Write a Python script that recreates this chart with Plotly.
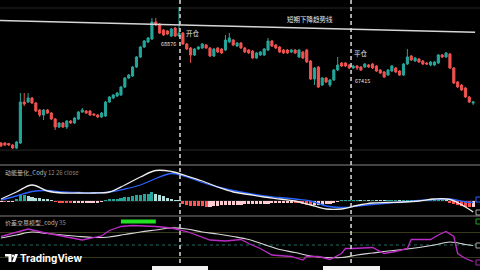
import plotly.graph_objects as go

# ---------------- data ----------------
opens = [63873,63873,63851,63782,63646,63873,65739,65739,65921,65693,65375,65147,65375,65238,64965,64601,64783,64601,64874,64783,
         64965,65284,65329,65329,65193,65147,65056,65102,65739,65921,66012,66057,66421,66831,66922,67331,67786,68241,68469,68605,
         69379,69288,69015,68970,68742,69106,68742,68878,68378,68196,67877,68150,68196,68332,68196,67832,68196,68150,68105,68469,
         68560,68287,68423,68196,68105,68059,67741,67877,67877,68105,68514,68332,68241,68105,68105,68014,68105,67786,68014,68105,
         67604,66785,67331,66512,66831,66512,66740,67195,67513,67513,67422,67286,67377,67331,67331,67422,67468,67377,67195,67104,
         66967,67149,67286,67149,66967,67468,67832,67604,67695,67604,67513,67422,67422,67513,67877,67786,67923,67286,66649,66512,
         66376,65966,65693]
highs = [63919,63919,63873,63828,63964,66148,66148,66148,65966,65739,65420,65420,65420,65284,65011,64829,64829,64920,64920,65056,
         65329,65466,65375,65375,65238,65193,65284,65784,66012,66103,66194,66467,66876,67013,67377,67832,68287,68560,68696,69561,
         69561,69333,69060,69015,69106,69151,70062,68924,68423,68241,68196,68287,68423,68378,68241,68196,68241,68196,68787,68878,
         68605,68469,68469,68241,68150,68105,68014,68059,68196,68651,68560,68378,68287,68150,68150,68150,68150,68150,68059,68150,
         67650,67331,67377,66876,66876,66785,67240,67786,67559,67559,67468,67422,67422,67377,67513,67468,67513,67422,67240,67149,
         67240,67422,67331,67195,67513,68150,67877,67786,67741,67650,67559,67604,67604,67923,67923,68014,67968,67331,66694,66558,
         66421,66012,65784]
lows = [63691,63737,63737,63600,63600,63828,65557,65693,65648,65284,65056,64920,65193,64920,64465,64556,64556,64510,64738,64738,
        64920,65238,65193,65102,65102,65011,65011,65056,65693,65875,65966,66012,66376,66785,66876,67286,67741,68196,68423,68560,
        69197,68833,68742,68787,68696,68696,68696,68332,68105,67513,67832,68105,68150,68150,67786,67786,67968,67923,68059,68423,
        68287,68241,68150,67968,67923,67695,67695,67832,67832,68059,68241,68150,67968,67923,67923,67968,67923,67741,67695,67513,
        66740,66512,66376,66467,66603,66421,66694,67149,67331,67331,67240,67240,67195,67149,67286,67286,67240,67104,67013,66831,
        66922,67104,67058,66922,66922,67422,67604,67559,67513,67422,67422,67377,67377,67468,67741,67741,67240,66558,66376,66239,
        65921,65693,65602]
closes = [63737,63782,63782,63646,63919,65739,65648,65921,65693,65329,65147,65375,65238,64965,64601,64783,64601,64874,64783,65011,
          65284,65375,65238,65147,65147,65056,65238,65739,65966,66057,66148,66421,66831,66967,67331,67786,68241,68514,68651,69379,
          69242,68878,68787,68833,69060,68742,68878,68378,68150,67877,68150,68241,68378,68196,67832,68150,68014,67968,68560,68651,
          68332,68423,68196,68014,67968,67741,67968,68014,68150,68514,68287,68196,68014,67968,67968,68105,67968,68105,67741,67559,
          66785,67286,66421,66831,66649,66740,67195,67422,67377,67377,67286,67377,67286,67195,67468,67331,67286,67149,67058,66876,
          67195,67377,67104,66967,67468,67786,67650,67741,67559,67468,67468,67559,67559,67877,67786,67968,67286,66603,66421,66285,
          65966,65739,65739]

hist = [-15,-20,-20,-15,30,120,120,110,90,70,60,50,35,20,-20,-30,-35,-40,-45,-45,
        -45,-45,-40,-35,-30,-25,-15,15,30,40,50,60,75,90,100,115,130,140,150,180,
        150,130,100,70,40,20,5,-60,-80,-90,-95,-100,-105,-115,-115,-105,-95,-85,-75,-70,
        -70,-70,-70,-65,-65,-60,-55,-55,-55,-50,-45,-40,-40,-35,-35,-30,-35,-45,-55,-70,
        -80,-80,-75,-70,-60,-50,-30,-10,5,10,12,14,14,12,12,10,10,8,6,4,
        4,6,6,5,10,20,20,20,18,15,15,15,15,20,20,10,-30,-60,-80,-100,
        -110,-115,-115]

osc_idx = [0,4,8,12,16,20,24,28,32,36,40,44,48,52,56,60,64,68,72,76,80,84,88,92,96,100,104,108,112,116,120,122]
macd_line = [40,180,320,200,160,160,160,180,320,480,610,590,500,400,280,180,130,80,40,0,-80,-160,-160,-90,-40,-30,-20,0,40,30,-120,-220]
signal_line = [20,100,190,210,180,170,160,180,240,320,450,550,480,370,280,210,150,100,70,40,0,-100,-130,-100,-70,-40,-20,10,30,40,-20,-30]
spread_slow = [64,70,76,73,70,67,65,66,71,76,80,84,82,76,72,67,61,51,41,35,28,25,25,30,34,38,41,45,50,56,51,49]

fast_idx = [0,7,11,17,21,26,28,31,34,40,44,48,51,54,58,62,64,67,70,75,78,79,82,85,88,89,91,95,96,99,102,105,106,111,113,115,117,118,120,122]
spread_fast = [67,82,75,66,60,68,79,87,89,87,84,77,68,60,58,61,53,43,30,27,20,27,27,21,33,43,43,45,45,33,37,43,61,61,70,77,67,33,23,17]

signal_zone_idx = [31,32,33,34,35,36,37,38,39,40]
signal_zone_level = 97

trend_x = [-0.26, 122.5]
trend_price = [69447, 68910]
entry_idx, exit_idx = 46.25, 90.45

UP, DOWN = "#26a69a", "#ef5350"
n = len(opens)
idx = list(range(n))

fig = go.Figure()
fig.add_trace(go.Candlestick(
    x=idx, open=opens, high=highs, low=lows, close=closes,
    increasing=dict(line=dict(color=UP, width=1), fillcolor=UP),
    decreasing=dict(line=dict(color=DOWN, width=1), fillcolor=DOWN),
    whiskerwidth=0, xaxis="x", yaxis="y", showlegend=False, hoverinfo="skip"))
fig.add_trace(go.Scatter(x=trend_x, y=trend_price, mode="lines",
                         line=dict(color="#d6d6d6", width=1.5), xaxis="x", yaxis="y",
                         showlegend=False, hoverinfo="skip"))

# histogram colours by TradingView rule
hcol = []
for k, h in enumerate(hist):
    prev = hist[k - 1] if k else h
    if h >= 0:
        hcol.append("#26a69a" if h >= prev else "#b2dfdb")
    else:
        hcol.append("#ff5252" if h < prev else "#ffcdd2")
fig.add_trace(go.Bar(x=idx, y=hist, marker=dict(color=hcol, line=dict(width=0)), width=0.8,
                     xaxis="x2", yaxis="y2", showlegend=False, hoverinfo="skip"))
fig.add_trace(go.Scatter(x=osc_idx, y=signal_line, mode="lines", line=dict(color="#2962ff", width=1.3, shape="spline"),
                         xaxis="x2", yaxis="y2", showlegend=False, hoverinfo="skip"))
fig.add_trace(go.Scatter(x=osc_idx, y=macd_line, mode="lines", line=dict(color="#eeeeee", width=1.3, shape="spline"),
                         xaxis="x2", yaxis="y2", showlegend=False, hoverinfo="skip"))

fig.add_trace(go.Scatter(x=signal_zone_idx, y=[signal_zone_level] * len(signal_zone_idx), mode="lines",
                         line=dict(color="#22e022", width=4), xaxis="x3", yaxis="y3",
                         showlegend=False, hoverinfo="skip"))
fig.add_trace(go.Scatter(x=osc_idx, y=spread_slow, mode="lines", line=dict(color="#d8d8d8", width=1.2, shape="spline"),
                         xaxis="x3", yaxis="y3", showlegend=False, hoverinfo="skip"))
fig.add_trace(go.Scatter(x=fast_idx, y=spread_fast, mode="lines", line=dict(color="#bb2cc4", width=1.3),
                         xaxis="x3", yaxis="y3", showlegend=False, hoverinfo="skip"))

xr = [-0.26, 123.77]
ax = dict(range=xr, visible=False, showgrid=False, zeroline=False, fixedrange=True)
fig.update_layout(
    width=480, height=270, margin=dict(l=0, r=0, t=0, b=0),
    paper_bgcolor="#000000", plot_bgcolor="#000000",
    bargap=0, boxgap=0.22,
    xaxis=dict(ax, domain=[0, 1], anchor="y", rangeslider=dict(visible=False)),
    yaxis=dict(domain=[1 - 150 / 270, 1], range=[63555, 70380], visible=False, showgrid=False, zeroline=False),
    xaxis2=dict(ax, domain=[0, 1], anchor="y2"),
    yaxis2=dict(domain=[1 - 216 / 270, 1 - 165 / 270], range=[-300, 720], visible=False, showgrid=False, zeroline=False),
    xaxis3=dict(ax, domain=[0, 1], anchor="y3"),
    yaxis3=dict(domain=[0, 1 - 216 / 270], range=[0, 108], visible=False, showgrid=False, zeroline=False),
    font=dict(family="Noto Sans CJK SC, Noto Sans, sans-serif", color="#d0d0d0"),
)

shapes = []
def hline_px(ypx, color, width=1, dash="solid"):
    p = 1 - ypx / 270
    shapes.append(dict(type="line", xref="paper", yref="paper", x0=0, x1=1, y0=p, y1=p,
                       line=dict(color=color, width=width, dash=dash), layer="below"))
hline_px(8, "#262626")
hline_px(150, "#2a2a2a")
hline_px(165, "#5a5a5a", 1.5)
hline_px(216, "#555555", 1.5)
# oscillator levels
for lv, col, dsh in [(75, "#38381a", "solid"), (25, "#38381a", "solid"), (50, "#1f6f63", "dot")]:
    shapes.append(dict(type="line", xref="paper", yref="y3", x0=0, x1=1, y0=lv, y1=lv,
                       line=dict(color=col, width=1, dash=dsh), layer="below"))
shapes.append(dict(type="line", xref="paper", yref="y2", x0=0, x1=1, y0=0, y1=0,
                   line=dict(color="#333333", width=1), layer="below"))
# entry / exit vertical dashed lines
for xv in (entry_idx, exit_idx):
    shapes.append(dict(type="line", xref="x", yref="paper", x0=xv, x1=xv, y0=0, y1=1,
                       line=dict(color="#dcdcdc", width=1.5, dash="4px,3px")))
# time-axis highlight boxes
for a, b in [(152, 208), (323, 380)]:
    shapes.append(dict(type="rect", xref="paper", yref="paper", x0=a / 480, x1=b / 480, y0=0, y1=4 / 270,
                       fillcolor="#f2f2f2", line=dict(width=0)))
# right edge value tags
for y0, y1, col in [(197, 202, "#2962ff"), (210, 215, "#aaaaaa"),
                    (219, 224, "#22a022"), (243, 248, "#aaaaaa"), (260, 265, "#a02aa8")]:
    shapes.append(dict(type="rect", xref="paper", yref="paper", x0=476 / 480, x1=1.01,
                       y0=1 - y1 / 270, y1=1 - y0 / 270, fillcolor="#000000", line=dict(color=col, width=1)))
# TradingView logo icon
def P(x, y):
    return f"{x / 480:.4f},{1 - y / 270:.4f}"
shapes.append(dict(type="path", xref="paper", yref="paper",
                   path=f"M{P(5,254)} L{P(11.5,254)} L{P(11.5,262)} L{P(8.5,262)} L{P(8.5,256.5)} L{P(5,256.5)} Z",
                   fillcolor="#ffffff", line=dict(width=0)))
shapes.append(dict(type="path", xref="paper", yref="paper",
                   path=f"M{P(15,254)} L{P(18,254)} L{P(15,262)} L{P(12,262)} Z",
                   fillcolor="#ffffff", line=dict(width=0)))
shapes.append(dict(type="circle", xref="paper", yref="paper",
                   x0=11.8 / 480, x1=14.2 / 480, y0=1 - 257 / 270, y1=1 - 254.6 / 270,
                   fillcolor="#ffffff", line=dict(width=0)))
fig.update_layout(shapes=shapes)

ann = []
def txt(x, y, s, size, color="#e6e6e6", xref="x", yref="y", xanchor="center"):
    ann.append(dict(x=x, y=y, xref=xref, yref=yref, text=s, showarrow=False,
                    font=dict(size=size, color=color), xanchor=xanchor, yanchor="middle"))
txt(79.8, 69493, "短期下降趋势线", 6.5)
txt(49.6, 68901, "开仓", 6.5)
txt(43.4, 68378, "68876", 5.5)
txt(93.0, 67946, "平仓", 6.5)
txt(93.5, 66695, "67415", 5.5)
txt(3 / 480, 1 - 172 / 270, "动能量化_Cody <span style='color:#8a8a8a'>12 26 close</span>", 6,
    color="#bdbdbd", xref="paper", yref="paper", xanchor="left")
txt(3 / 480, 1 - 222 / 270, "价差交易模型_cody <span style='color:#8a8a8a'>35</span>", 6,
    color="#bdbdbd", xref="paper", yref="paper", xanchor="left")
ann.append(dict(x=18 / 480, y=1 - 258.5 / 270, xref="paper", yref="paper", text="<b>TradingView</b>",
                showarrow=False, xanchor="left", yanchor="middle",
                font=dict(size=10, color="#ffffff", family="Inter, Roboto, sans-serif")))
fig.update_layout(annotations=ann)

fig.write_html("out.html")
